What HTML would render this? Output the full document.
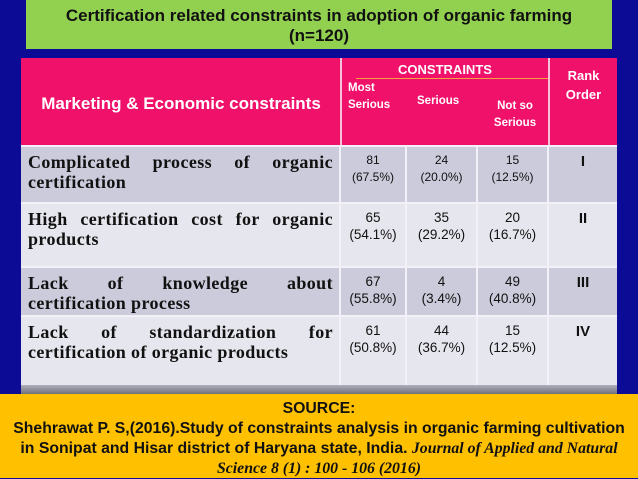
<!DOCTYPE html>
<html><head><meta charset="utf-8"><style>
body{margin:0;width:638px;height:478px;background:#0b0b96;position:relative;overflow:hidden;font-family:"Liberation Sans",sans-serif}
.a{position:absolute;box-sizing:border-box}
#title{left:26px;top:0;width:586px;height:49px;background:#92d050;text-align:center;font-weight:bold;font-size:17px;line-height:20px;padding-top:6px;color:#111}
.hd{background:#f0116b;color:#fff;font-weight:bold}
.cell{border-right:2px solid #f4f0f8}
.txt{font-family:"Liberation Serif",serif;font-weight:bold;font-size:18px;letter-spacing:0.4px;line-height:20px;color:#111;padding:5px 6px 0 7px}
.txt span{display:block;white-space:nowrap}
.txt span.j{white-space:normal;text-align:justify;text-align-last:justify}
.num{text-align:center;font-size:13.5px;line-height:17px;color:#111;padding-top:5px}
.rk{text-align:center;font-weight:bold;font-size:15px;color:#111;padding-top:6px}
#src{left:0;top:394px;width:638px;height:84px;background:#ffc000;text-align:center;font-weight:bold;font-size:15.8px;line-height:20px;color:#111;padding-top:5px}
</style></head><body>
<div id="title" class="a">Certification related constraints in adoption of organic farming<br>(n=120)</div>

<div class="a hd" style="left:21px;top:58px;width:596px;height:87px"></div>
<div class="a" style="left:340px;top:58px;width:2px;height:87px;background:#f4c0d8"></div>
<div class="a" style="left:548px;top:58px;width:2px;height:87px;background:#f4c0d8"></div>
<div class="a" style="left:21px;top:94px;width:320px;text-align:center;color:#fff;font-weight:bold;font-size:17px">Marketing &amp; Economic constraints</div>
<div class="a" style="left:342px;top:62px;width:206px;text-align:center;color:#fff;font-weight:bold;font-size:13px">CONSTRAINTS</div>
<div class="a" style="left:356px;top:78px;width:192px;height:1px;background:#f7a040"></div>
<div class="a" style="left:348px;top:80px;color:#fff;font-weight:bold;font-size:11.5px;line-height:17px">Most<br>Serious</div>
<div class="a" style="left:417px;top:95px;color:#fff;font-weight:bold;font-size:11.5px">Serious</div>
<div class="a" style="left:485px;top:98px;width:60px;text-align:center;color:#fff;font-weight:bold;font-size:11.5px;line-height:17px">Not so<br>Serious</div>
<div class="a" style="left:550px;top:66px;width:67px;text-align:center;color:#fff;font-weight:bold;font-size:13px;line-height:19px">Rank<br>Order</div>

<div id="rows"></div>
<div class="a" style="left:21px;top:385px;width:596px;height:9px;background:linear-gradient(#b0b0bc,#70707c)"></div>

<div id="src" class="a">SOURCE:<br>Shehrawat P. S,(2016).Study of constraints analysis in organic farming cultivation<br>in Sonipat and Hisar district of Haryana state, India. <i style="font-family:'Liberation Serif',serif">Journal of Applied and Natural<br>Science 8 (1) : 100 - 106 (2016)</i></div>

<script>
const line1=["Complicated process of organic","High certification cost for organic","Lack of knowledge about","Lack of standardization for"];
const line2=["certification","products","certification process","certification of organic products"];
const mostSerious=[81,65,67,61];
const mostPct=["67.5%","54.1%","55.8%","50.8%"];
const serious=[24,35,4,44];
const seriousPct=["20.0%","29.2%","3.4%","36.7%"];
const notSerious=[15,20,49,15];
const notPct=["12.5%","16.7%","40.8%","12.5%"];
const ranks=["I","II","III","IV"];
const rowTops=[147,204,268,317],rowBots=[202,266,315,385];
const cols=[21,341,407,478,549,617];
const host=document.getElementById('rows');
function cell(x,y,w,h,bg,cls,html){const d=document.createElement('div');d.className='a cell '+cls;d.style.cssText=`left:${x}px;top:${y}px;width:${w}px;height:${h}px;background:${bg}`;d.innerHTML=html;host.appendChild(d);return d;}
line1.forEach((l,i)=>{
 const y=rowTops[i],h=rowBots[i]-y,bg=i%2?'#e6e6ee':'#cbcbdb';
 const r=document.createElement('div');r.className='a';r.style.cssText=`left:21px;top:${y-2}px;width:596px;height:${h+2}px;background:#f4f0f8`;host.appendChild(r);
 const c0=cell(cols[0],y,cols[1]-cols[0],h,bg,'txt',`<span class="j">${l}</span><span>${line2[i]}</span>`);
 
 
 const vals=[[mostSerious[i],mostPct[i]],[serious[i],seriousPct[i]],[notSerious[i],notPct[i]]];
 vals.forEach((v,j)=>{const c=cell(cols[j+1],y,cols[j+2]-cols[j+1],h,bg,'num',`${v[0]}<br>(${v[1]})`);
  if(i===0){c.style.fontSize='12px';}
  
  });
 const rk=cell(cols[4],y,cols[5]-cols[4],h,bg,'rk',ranks[i]);rk.style.borderRight='none';
 
 
});
</script>
</body></html>
